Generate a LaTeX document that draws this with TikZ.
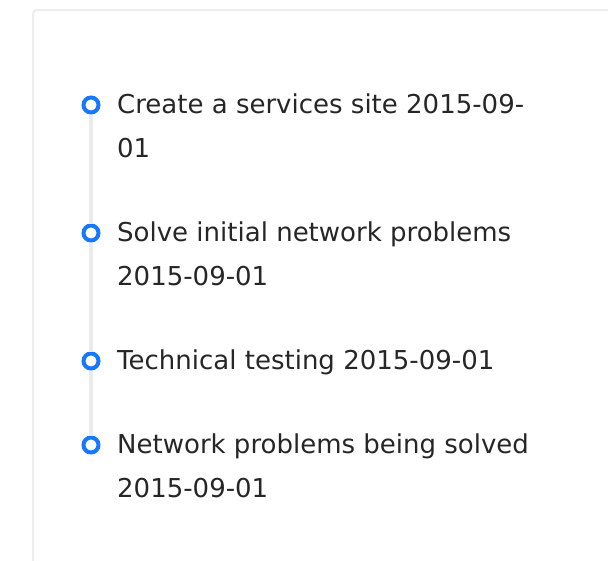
\documentclass[tikz,border=0pt]{standalone}
\usepackage{fontspec}
\setmainfont{DejaVu Sans}
\definecolor{dotblue}{HTML}{1677FF}
\definecolor{tailgray}{HTML}{EBEBEB}
\definecolor{framegray}{HTML}{EDEDED}
\definecolor{textdark}{HTML}{262626}
\begin{document}
\begin{tikzpicture}[x=1pt,y=-1pt,
  dot/.style={circle,draw=dotblue,line width=4pt,fill=white,minimum size=15pt,inner sep=0pt},
  tail/.style={draw=tailgray,line width=4pt},
  item/.style={anchor=base west,inner sep=0pt,align=left,text=textdark,font=\fontsize{26}{44}\selectfont}]
\useasboundingbox (0,0) rectangle (608,560);
\clip (0,0) rectangle (608,560);
\draw [framegray,line width=2pt,rounded corners=4pt] (620,10)--(33,10)--(33,570);
\node[dot] (d1) at (91,105) {};
\node[dot] (d2) at (91,233) {};
\node[dot] (d3) at (91,361) {};
\node[dot] (d4) at (91,445) {};
\draw[tail] (d1)--(d2);
\draw[tail] (d2)--(d3);
\draw[tail] (d3)--(d4);
% base of a two-line node is its last line
\node[item] (t1) at (117,157) {Create a services site 2015-09-\\01};
\node[item] (t2) at (117,285) {Solve initial network problems\\2015-09-01};
\node[item] (t3) at (117,369) {Technical testing 2015-09-01};
\node[item] (t4) at (117,497) {Network problems being solved\\2015-09-01};
\end{tikzpicture}
\end{document}
